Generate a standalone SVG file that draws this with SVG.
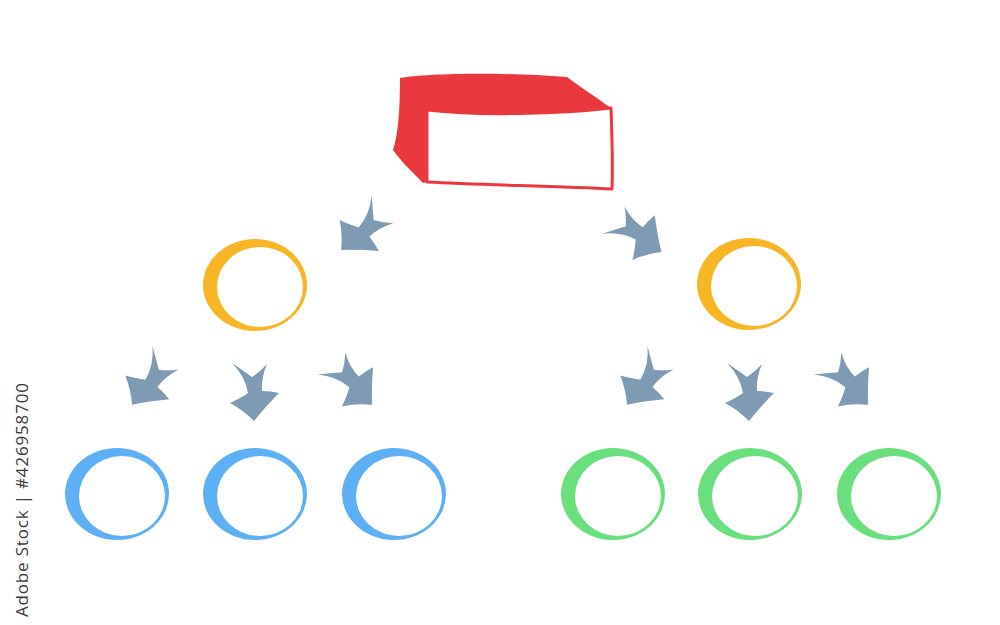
<svg xmlns="http://www.w3.org/2000/svg" xmlns:xlink="http://www.w3.org/1999/xlink" width="1000" height="625" viewBox="0 0 1000 625">
  <style>
    .arrow { fill: #7F9BB4; }
    .yellow { fill: #F8B526; }
    .blue { fill: #5DB0F6; }
    .green { fill: #69E07D; }
    .red { fill: #E9393F; }
    .stamp { font-family: "Open Sans", "DejaVu Sans", sans-serif; font-size: 17px; fill: #3a3a3a; }
  </style>
  <defs>
    <path id="ring" fill-rule="evenodd" d="M -52,0 A 52,46 0 1 0 52,0 A 52,46 0 1 0 -52,0 Z M -38,2 A 43,40 0 1 0 48,2 A 43,40 0 1 0 -38,2 Z"/>
    <path id="arr" d="M -22,-27 Q -9,-18 -2,-13 Q 6,-18 13,-26 Q 7,-12 8,1 Q 17,1 25,3 Q 13,15 0,31 Q -11,20 -24,13 Q -13,8 -6,3 Q -9,-14 -22,-27 Z"/>
  </defs>
  <rect width="1000" height="625" fill="#ffffff"/>

  <g id="root">
    <path class="red" d="M 400,78 C 430,73 500,72 567,77 L 571,80 C 585,90 600,100 611,108 C 560,114 480,116 427,110 L 427,182 L 423,183 C 412,172 400,160 393,150 C 398,135 400,110 400,78 Z"/>
    <path d="M 427,110 C 480,116 560,114 611,108 C 612,135 613,165 612,189 C 560,186 480,185 427,182 Z" fill="#ffffff" stroke="#E9393F" stroke-width="3" stroke-linejoin="round"/>
  </g>

  <g id="mid-left"><use xlink:href="#ring" class="yellow" transform="translate(255,285)"/></g>
  <g id="mid-right"><use xlink:href="#ring" class="yellow" transform="translate(749,284)"/></g>

  <g id="leaf-l1"><use xlink:href="#ring" class="blue" transform="translate(117,494)"/></g>
  <g id="leaf-l2"><use xlink:href="#ring" class="blue" transform="translate(255,494)"/></g>
  <g id="leaf-l3"><use xlink:href="#ring" class="blue" transform="translate(394,494)"/></g>
  <g id="leaf-r1"><use xlink:href="#ring" class="green" transform="translate(613,494)"/></g>
  <g id="leaf-r2"><use xlink:href="#ring" class="green" transform="translate(750,494)"/></g>
  <g id="leaf-r3"><use xlink:href="#ring" class="green" transform="translate(889,494)"/></g>

  <g id="connectors" class="arrow">
    <use xlink:href="#arr" transform="translate(365,230) rotate(50)"/>
    <use xlink:href="#arr" transform="translate(637,233) rotate(-52)"/>
    <use xlink:href="#arr" transform="translate(152,381) rotate(40)"/>
    <use xlink:href="#arr" transform="translate(254,390)"/>
    <use xlink:href="#arr" transform="translate(352,381) rotate(-40)"/>
    <use xlink:href="#arr" transform="translate(647,381) rotate(40)"/>
    <use xlink:href="#arr" transform="translate(749,390)"/>
    <use xlink:href="#arr" transform="translate(848,381) rotate(-40)"/>
  </g>

  <text class="stamp" transform="translate(28,617) rotate(-90)" textLength="234" lengthAdjust="spacing">Adobe Stock | #426958700</text>
</svg>
